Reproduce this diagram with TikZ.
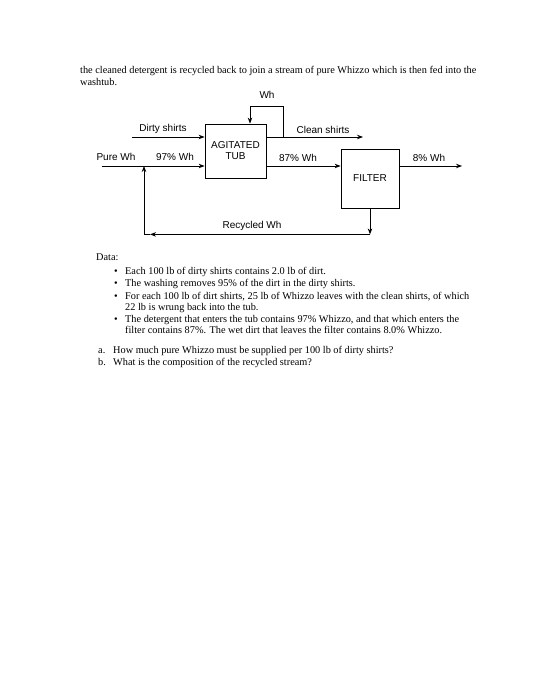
\documentclass[tikz,border=0pt]{standalone}
\usepackage{fontspec}
\setmainfont{Liberation Serif}
\newfontfamily\diagfont{Liberation Sans}
\usetikzlibrary{arrows.meta}

\begin{document}
\begin{tikzpicture}[x=1pt, y=-1pt,
  unit/.style={draw, line width=0.8pt, align=center, font=\diagfont\fontsize{10}{11}\selectfont},
  flow/.style={line width=0.9pt, -{Stealth[length=6pt, width=4.5pt]}},
  lbl/.style={font=\diagfont\fontsize{10}{11}\selectfont},
  body/.style={anchor=base west, inner sep=0pt, font=\fontsize{10.3}{12}\selectfont}]
  \useasboundingbox[fill=white] (0,0) rectangle (541,700);
  % Problem text above the sketch
  \node[body] (intro1) at (80,74) {the cleaned detergent is recycled back to join a stream of pure Whizzo which is then fed into the};
  \node[body] (intro2) at (80,86) {washtub.};
  % Units
  \node[unit, minimum width=61pt, minimum height=54pt] (tub) at (235.5,151) {AGITATED\\TUB};
  \node[unit, minimum width=58pt, minimum height=59pt] (filter) at (370,178.5) {FILTER};
  % Free ends of the streams
  \coordinate (dirtyin) at (132,137);
  \coordinate (purein) at (102,166);
  \coordinate (cleanout) at (363,137);
  \coordinate (wringR) at (283,106);
  \coordinate (wringL) at (250,106);
  \coordinate (wasteout) at (462,166);
  \path (filter.south) ++(0,26) coordinate (recR);
  \coordinate (recM) at (recR -| 150,0);
  \coordinate (recL) at (recR -| 144,0);
  % Streams
  \draw[flow] (dirtyin) -- (dirtyin -| tub.west);
  \draw[flow] (purein) -- (purein -| tub.west);
  \draw[flow] (cleanout -| tub.east) -- (cleanout);
  \draw[flow] (cleanout -| wringR) -- (wringR) -- (wringL) -- (wringL |- tub.north);
  \draw[flow] (tub.east |- purein) -- (filter.west |- purein);
  \draw[flow] (filter.east |- wasteout) -- (wasteout);
  \draw[flow] (filter.south) -- (recR);
  \draw[flow] (recR) -- (recM);
  \draw[flow] (recM) -- (recL) -- (recL |- purein);
  % Stream labels
  \node[lbl] (whlbl) at (267,95) {Wh};
  \node[lbl] (dirtylbl) at (163,129) {Dirty shirts};
  \node[lbl] (purelbl) at (116,157) {Pure Wh};
  \node[lbl] (mixlbl) at (175,157) {97\% Wh};
  \node[lbl] (cleanlbl) at (323,130) {Clean shirts};
  \node[lbl] (feedlbl) at (298,158) {87\% Wh};
  \node[lbl] (wastelbl) at (429,158) {8\% Wh};
  \node[lbl] (reclbl) at (252,226) {Recycled Wh};
  % Data
  \node[body] (datahd) at (96,261) {Data:};
  \foreach \y/\t [count=\i] in {274/{Each 100 lb of dirty shirts contains 2.0 lb of dirt.},
      286/{The washing removes 95\% of the dirt in the dirty shirts.},
      299/{For each 100 lb of dirt shirts, 25 lb of Whizzo leaves with the clean shirts, of which},
      322/{The detergent that enters the tub contains 97\% Whizzo, and that which enters the}}{
    \node[body] (bullet\i) at (114,\y) {•};
    \node[body] (data\i) at (125,\y) {\t};
  }
  \node[body] (data3b) at (125,310) {22 lb is wrung back into the tub.};
  \node[body] (data4b) at (125,333) {filter contains 87\%. The wet dirt that leaves the filter contains 8.0\% Whizzo.};
  % Questions
  \node[body] (qa) at (98,353) {a.};
  \node[body] (qatext) at (113,353) {How much pure Whizzo must be supplied per 100 lb of dirty shirts?};
  \node[body] (qb) at (98,365) {b.};
  \node[body] (qbtext) at (113,365) {What is the composition of the recycled stream?};
\end{tikzpicture}
\end{document}
